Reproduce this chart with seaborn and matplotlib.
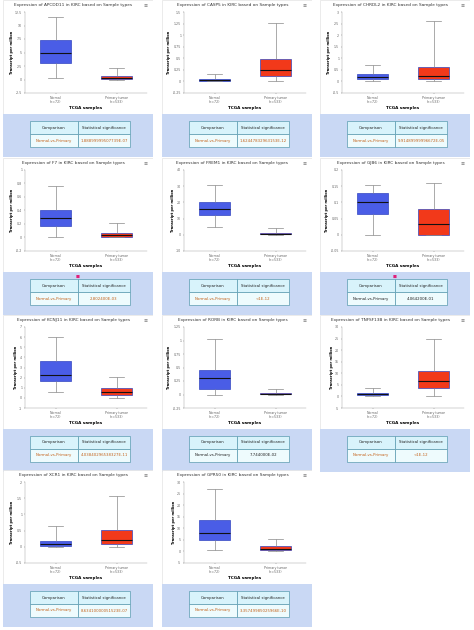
import numpy as np
import pandas as pd
import seaborn as sns
import matplotlib.pyplot as plt
from matplotlib.patches import Rectangle

# Datos: cinco numeros (min, q1, mediana, q3, max) por grupo
genes = ["APCDD11", "CASP5", "CHRDL2", "F7", "FREM1", "GJB6",
         "KCNJ11", "RORB", "TNFSF13B", "XCR1", "GPR50"]
normal = [
    [0.2, 3.1, 4.9, 7.4, 11.5],
    [0.0, 0.01, 0.03, 0.05, 0.15],
    [0.02, 0.12, 0.2, 0.3, 0.7],
    [0.0, 0.17, 0.29, 0.4, 0.77],
    [5.0, 12.5, 16.0, 20.5, 31.0],
    [0.0, 0.065, 0.1, 0.128, 0.155],
    [0.6, 1.7, 2.3, 3.6, 6.0],
    [0.0, 0.1, 0.3, 0.46, 1.02],
    [0.0, 0.5, 1.0, 1.6, 3.5],
    [0.0, 0.03, 0.09, 0.17, 0.63],
    [0.8, 4.8, 8.0, 13.5, 27.0],
]
tumor = [
    [0.0, 0.1, 0.3, 0.6, 2.2],
    [0.0, 0.11, 0.25, 0.48, 1.26],
    [0.0, 0.1, 0.25, 0.62, 2.6],
    [0.0, 0.01, 0.04, 0.07, 0.21],
    [0.0, 0.3, 0.8, 1.2, 4.0],
    [0.0, 0.0, 0.032, 0.08, 0.16],
    [0.0, 0.3, 0.6, 0.95, 2.1],
    [0.0, 0.005, 0.015, 0.025, 0.1],
    [0.0, 3.5, 6.8, 11.2, 24.8],
    [0.0, 0.08, 0.2, 0.53, 1.57],
    [0.0, 0.5, 1.2, 2.5, 5.5],
]
yticks = [
    [-2.5, 0, 2.5, 5, 7.5, 10, 12.5],
    [-0.25, 0, 0.25, 0.5, 0.75, 1, 1.25, 1.5],
    [-0.5, 0, 0.5, 1, 1.5, 2, 2.5, 3],
    [-0.2, 0, 0.2, 0.4, 0.6, 0.8, 1],
    [-10, 0, 10, 20, 30, 40],
    [-0.05, 0, 0.05, 0.1, 0.15, 0.2],
    [-1, 0, 1, 2, 3, 4, 5, 6, 7],
    [-0.25, 0, 0.25, 0.5, 0.75, 1, 1.25],
    [-5, 0, 5, 10, 15, 20, 25, 30],
    [-0.5, 0, 0.5, 1, 1.5, 2],
    [-5, 0, 5, 10, 15, 20, 25, 30],
]
pvalues = ["1.88899999507739E-07", "1.62447832963153E-12", "9.91489999996672E-05",
           "2.802400E-03", "<1E-12", "4.064200E-01",
           "4.03840296538327E-11", "7.744000E-02", "<1E-12",
           "8.63410000051523E-07", "3.35749985025966E-10"]
significant = [True, True, True, True, True, False, True, False, True, True, True]
marker = [False, False, False, True, False, True, False, False, False, False, False]

W, H = 474, 630
fig = plt.figure(figsize=(W / 100, H / 100), dpi=100)
fig.patch.set_facecolor("white")

col_x = [3, 162, 320]
row_y = [0, 158, 315, 470]
pw = 150
band = "#c9d8f4"

def px(x, y, w, h):
    return [x / W, 1 - (y + h) / H, w / W, h / H]

def fmt(v):
    return f"{v:g}"

for i, g in enumerate(genes):
    x0 = col_x[i % 3]
    y0 = row_y[i // 3]
    # marco del panel
    fr = fig.add_axes(px(x0, y0, pw, 157))
    fr.axis("off")
    fr.add_patch(Rectangle((0, 0), 1, 1, facecolor="white", edgecolor="#e3e3e3", lw=0.5))
    fr.add_patch(Rectangle((0, 0), 1, 43 / 157, facecolor=band, edgecolor="none"))
    fr.text(0.47, 1 - 5 / 157, f"Expression of {g} in KIRC based on Sample types",
            ha="center", va="center", fontsize=3.1, color="#333333")
    fr.text(0.95, 1 - 6 / 157, "≡", ha="center", va="center", fontsize=3.5, color="#666666")
    fr.set_xlim(0, 1)
    fr.set_ylim(0, 1)

    # grafica de cajas
    ax = fig.add_axes(px(x0 + 22, y0 + 12, 122, 81))
    df = pd.DataFrame({
        "grupo": ["Normal"] * 5 + ["Primary tumor"] * 5,
        "valor": normal[i] + tumor[i],
    })
    sns.boxplot(data=df, x="grupo", y="valor", hue="grupo", ax=ax, whis=(0, 100),
                palette={"Normal": "#4a5de6", "Primary tumor": "#f2391a"},
                saturation=1, width=0.5, legend=False, linewidth=0.5,
                boxprops=dict(edgecolor="#3346c0"),
                medianprops=dict(color="#111111", linewidth=0.8),
                whiskerprops=dict(color="#888888", linewidth=0.5),
                capprops=dict(color="#888888", linewidth=0.5))
    t = yticks[i]
    ax.set_ylim(t[0], t[-1])
    ax.set_yticks(t)
    ax.set_yticklabels([fmt(v) for v in t])
    ax.set_xticks([0, 1])
    ax.set_xticklabels(["Normal\n(n=72)", "Primary tumor\n(n=533)"])
    ax.tick_params(labelsize=2.3, length=1, width=0.3, colors="#666666", pad=1)
    ax.set_xlabel("TCGA samples", fontsize=3, fontweight="bold", labelpad=1.5)
    ax.set_ylabel("Transcript per million", fontsize=2.6, fontweight="bold", labelpad=1)
    for s in ["top", "right"]:
        ax.spines[s].set_visible(False)
    for s in ["left", "bottom"]:
        ax.spines[s].set_linewidth(0.3)
        ax.spines[s].set_color("#999999")

    # tabla
    if marker[i]:
        fr.text(0.5, 38 / 157, "■", ha="center", va="center", fontsize=3, color="#e0207a")
    tx = fig.add_axes(px(x0 + 27, y0 + 121, 100, 26))
    tx.axis("off")
    tab = tx.table(cellText=[["Comparison", "Statistical significance"],
                             ["Normal-vs-Primary", pvalues[i]]],
                   cellLoc="center", bbox=[0, 0, 1, 1], colWidths=[0.48, 0.52])
    tab.auto_set_font_size(False)
    for (r, c), cell in tab.get_celld().items():
        cell.set_edgecolor("#5a9bb0")
        cell.set_linewidth(0.5)
        cell.set_facecolor("#d8f3fb" if r == 0 else "#eefbfd")
        cell.get_text().set_fontsize(2.8)
        if r == 1:
            cell.get_text().set_color("#c4621a" if significant[i] else "#222222")
        else:
            cell.get_text().set_color("#222222")

fig.savefig("out.png", dpi=100)
